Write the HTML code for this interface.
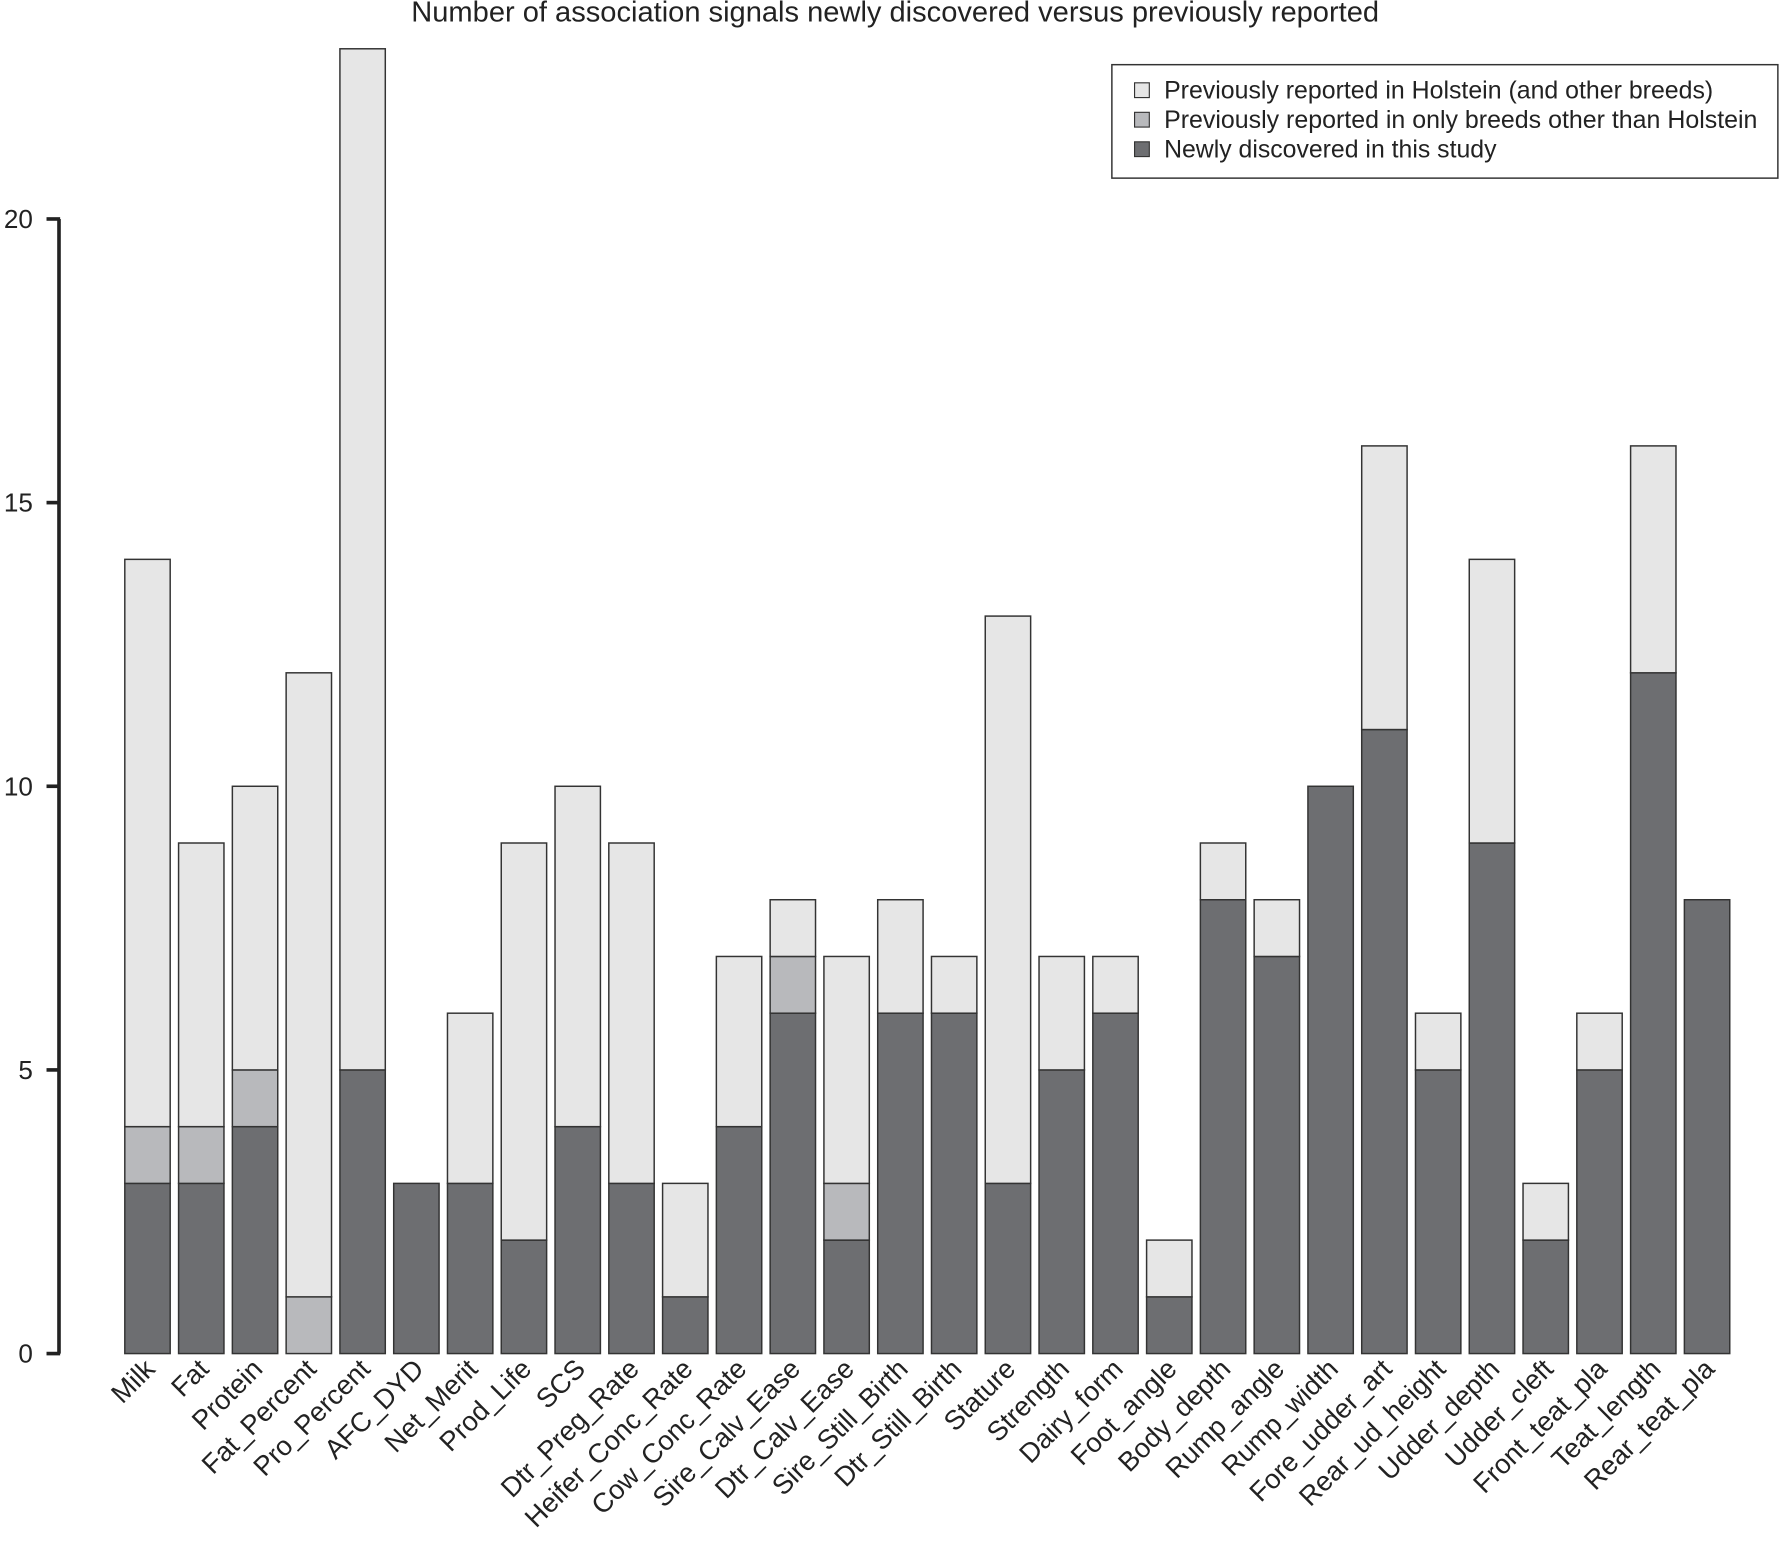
<!DOCTYPE html>
<html><head><meta charset="utf-8"><style>
html,body{margin:0;padding:0;background:#fff;}
svg{display:block;font-family:"Liberation Sans",Arial,sans-serif;}
</style></head><body>
<svg id="chart" width="1779" height="1546" viewBox="0 0 1568 1362.6" preserveAspectRatio="none" xmlns="http://www.w3.org/2000/svg">
<text x="789" y="19" font-size="25.5" text-anchor="middle" fill="#222" textLength="853" lengthAdjust="spacingAndGlyphs">Number of association signals newly discovered versus previously reported</text>
<g id="yaxis"></g>
<g id="bars"></g>
<g id="xlabels"></g>
<g>
<rect x="980" y="57" width="587" height="100" fill="#fff" stroke="#333" stroke-width="1.3"/>
<g><rect x="1000" y="73" width="13" height="13" fill="#e6e6e6" stroke="#333"/><text x="1026" y="87" font-size="22" fill="#222" textLength="484" lengthAdjust="spacingAndGlyphs">Previously reported in Holstein (and other breeds)</text></g>
<g><rect x="1000" y="99" width="13" height="13" fill="#b8b9bc" stroke="#333"/><text x="1026" y="113" font-size="22" fill="#222" textLength="523" lengthAdjust="spacingAndGlyphs">Previously reported in only breeds other than Holstein</text></g>
<g><rect x="1000" y="125" width="13" height="13" fill="#6d6e71" stroke="#333"/><text x="1026" y="139" font-size="22" fill="#222" textLength="293" lengthAdjust="spacingAndGlyphs">Newly discovered in this study</text></g>
</g>
</svg>
<script>
const categories=["Milk","Fat","Protein","Fat_Percent","Pro_Percent","AFC_DYD","Net_Merit","Prod_Life","SCS","Dtr_Preg_Rate","Heifer_Conc_Rate","Cow_Conc_Rate","Sire_Calv_Ease","Dtr_Calv_Ease","Sire_Still_Birth","Dtr_Still_Birth","Stature","Strength","Dairy_form","Foot_angle","Body_depth","Rump_angle","Rump_width","Fore_udder_art","Rear_ud_height","Udder_depth","Udder_cleft","Front_teat_pla","Teat_length","Rear_teat_pla"];
const newlyDiscovered=[3,3,4,0,5,3,3,2,4,3,1,4,6,2,6,6,3,5,6,1,8,7,10,11,5,9,2,5,12,8];
const otherBreeds=[1,1,1,1,0,0,0,0,0,0,0,0,1,1,0,0,0,0,0,0,0,0,0,0,0,0,0,0,0,0];
const holstein=[10,5,5,11,18,0,3,7,6,6,2,3,1,4,2,1,10,2,1,1,1,1,0,5,1,5,1,1,4,0];
const yTicks=[0,5,10,15,20];
const NS="http://www.w3.org/2000/svg";
const y0=1193, unit=50, x0=110, step=47.4, bw=40;
function yScale(v){return y0-v*unit;}
function xScale(i){return x0+i*step;}
function mk(tag,attrs,parent){const e=document.createElementNS(NS,tag);for(const k in attrs)e.setAttribute(k,attrs[k]);parent.appendChild(e);return e;}
const ya=document.getElementById('yaxis');
const axl=mk('line',{x1:52,x2:52,y1:yScale(20),y2:yScale(0),stroke:'#222','stroke-width':3.2},ya);


yTicks.forEach(t=>{
 const l=mk('line',{x1:41,x2:53,y1:yScale(t),y2:yScale(t),stroke:'#222','stroke-width':3.2},ya);
 
 
 const tx=mk('text',{x:29,y:yScale(t)+8,'font-size':23,'text-anchor':'end',fill:'#222'},ya);
 tx.textContent=t;
 
 
});
const bg=document.getElementById('bars');
const xl=document.getElementById('xlabels');
categories.forEach((c,i)=>{
 const x=xScale(i);
 const segs=[[newlyDiscovered[i],'#6d6e71','bar-newly-discovered'],[otherBreeds[i],'#b8b9bc','bar-other-breeds'],[holstein[i],'#e6e6e6','bar-holstein']];
 let base=0;
 segs.forEach(s=>{
  if(s[0]>0){
   const r=mk('rect',{x:x,y:yScale(base+s[0]),width:bw,height:s[0]*unit,fill:s[1],stroke:'#333','stroke-width':1.3},bg);
   
   
  }
  base+=s[0];
 });
 const cx=x+bw/2+8, cy=1208;
 const t=mk('text',{x:cx,y:cy,'font-size':24,'text-anchor':'end',fill:'#222',transform:`rotate(-45 ${cx} ${cy})`},xl);
 t.textContent=c;
 
 
});
</script>
</body></html>
